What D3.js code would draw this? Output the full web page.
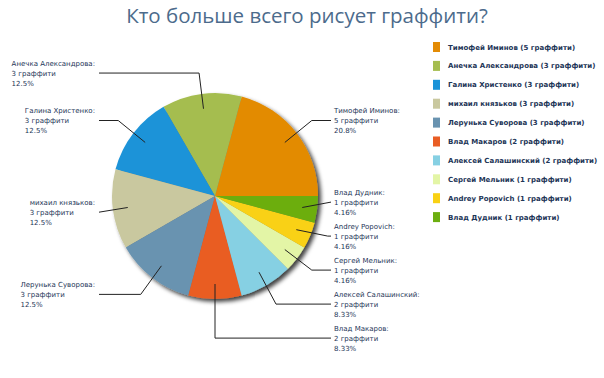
<!DOCTYPE html>
<html><head><meta charset="utf-8">
<script src="https://cdn.jsdelivr.net/npm/d3@7"></script>
<style>html,body{margin:0;padding:0;background:#fff;}svg{display:block;}</style>
</head><body>
<svg id="chart" width="604" height="378"></svg>
<script>
const title = "Кто больше всего рисует граффити?";
const names = ["Тимофей Иминов","Анечка Александрова","Галина Христенко","михаил князьков","Лерунька Суворова","Влад Макаров","Алексей Салашинский","Сергей Мельник","Andrey Popovich","Влад Дудник"];
const counts = [5,3,3,3,3,2,2,1,1,1];
const colors = ["#E38B05","#A5BD4F","#1B93D8","#C9C89F","#6993B0","#E95D24","#86D0E3","#E3F5A6","#F9D114","#6CAE10"];
const unit = "граффити";

const svg = d3.select("#chart");
const W = 604, H = 378;
const cx = 215, cy = 196, R = 103;
const textColor = "#1d3557";

// shadow filter
const defs = svg.append("defs");
const f = defs.append("filter").attr("id","sh").attr("x","-20%").attr("y","-20%").attr("width","150%").attr("height","150%");
f.append("feDropShadow").attr("dx",3).attr("dy",3).attr("stdDeviation",2).attr("flood-color","#000").attr("flood-opacity",0.75);

// title
svg.append("text").attr("x",307).attr("y",23).attr("text-anchor","middle")
  .attr("font-family","'Open Sans', sans-serif").attr("font-size",20.5).attr("fill","#4c6b8c")
  .text(title);

const data = names.map((n,i)=>({name:n,count:counts[i],color:colors[i]}));
const total = d3.sum(counts);
const pie = d3.pie().value(d=>d.count).sort(null).startAngle(Math.PI/2).endAngle(-3*Math.PI/2);
const arcs = pie(data);
const arc = d3.arc().innerRadius(0).outerRadius(R);

const g = svg.append("g").attr("transform",`translate(${cx},${cy})`);
const pg = g.append("g").attr("filter","url(#sh)");
pg.selectAll("path").data(arcs).join("path").attr("d",arc).attr("fill",d=>d.data.color);

function pct(v){
  const p = v/total*100;
  const k = Math.pow(10, 3 - Math.ceil(Math.log10(p)));
  return (Math.floor(p*k+1e-9)/k) + "%";
}

// label layout
const anchorArc = d3.arc().innerRadius(88).outerRadius(88);
const labDist = 124, elbowR = 122, gap = 34, labX = 119, lineX = 116;
const items = arcs.map(a=>{
  const mid = (a.startAngle + a.endAngle)/2;
  const side = Math.sin(mid) > -1e-6 ? 1 : -1;
  return {a, mid, side, ideal: -labDist*Math.cos(mid), anchor: anchorArc.centroid(a)};
});
[1,-1].forEach(s=>{
  const list = items.filter(d=>d.side===s).sort((p,q)=>p.ideal-q.ideal);
  let clusters = [];
  list.forEach(it=>{
    clusters.push({items:[it]});
    let merged = true;
    while(merged && clusters.length>1){
      merged = false;
      const c = clusters[clusters.length-1], p = clusters[clusters.length-2];
      const pos = cl => { const m = d3.mean(cl.items,d=>d.ideal); const n = cl.items.length; return {top: m - (n-1)*gap/2, bot: m + (n-1)*gap/2}; };
      if (pos(p).bot + gap > pos(c).top){ p.items = p.items.concat(c.items); clusters.pop(); merged = true; }
    }
  });
  clusters.forEach(cl=>{
    const m = d3.mean(cl.items,d=>d.ideal), n = cl.items.length;
    cl.items.forEach((it,i)=>{ it.y = m - (n-1)*gap/2 + i*gap; });
  });
});

const lg = g.append("g");
items.forEach(it=>{
  let ex = elbowR*Math.sin(it.mid);
  if (Math.abs(ex) > lineX) ex = it.side*lineX;
  const pts = [[it.side*lineX, it.y],[ex, it.y],it.anchor];
  lg.append("path").attr("d",d3.line()(pts)).attr("fill","none").attr("stroke","#222").attr("stroke-width",1);
  const t = lg.append("text").attr("font-family","'DejaVu Sans', Verdana, sans-serif").attr("font-size",7).attr("fill",textColor);
  const lines = [it.a.data.name+":", it.a.data.count+" "+unit, pct(it.a.data.count)];
  lines.forEach((l,i)=>{
    t.append("tspan").attr("x",0).attr("y",it.y + (i-1)*10 + 2.5).text(l);
  });
  if (it.side>0){ t.attr("transform",`translate(${labX},0)`); }
  else {
    const w = t.node().getBBox().width;
    t.attr("transform",`translate(${-labX-1-w},0)`);
  }
});

// legend
const leg = svg.append("g").attr("transform","translate(433,47)");
const rows = leg.selectAll("g").data(data).join("g").attr("transform",(d,i)=>`translate(0,${i*18.9})`);
rows.append("rect").attr("x",0).attr("y",-5).attr("width",7).attr("height",10).attr("fill",d=>d.color);
rows.append("text").attr("x",15).attr("y",2.5).attr("font-family","'DejaVu Sans', Verdana, sans-serif")
  .attr("font-weight","bold").attr("font-size",7).attr("fill",textColor)
  .text(d=>`${d.name} (${d.count} ${unit})`);
</script>
</body></html>
